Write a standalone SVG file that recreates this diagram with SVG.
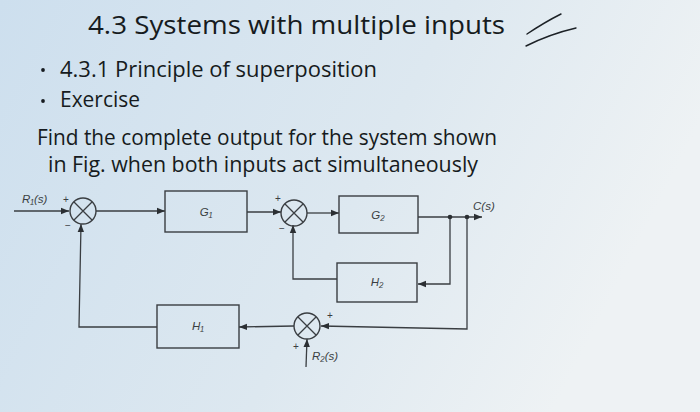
<svg xmlns="http://www.w3.org/2000/svg" width="700" height="412" viewBox="0 0 700 412">
<defs>
<linearGradient id="bg" x1="0" y1="0" x2="1" y2="0.3">
<stop offset="0" stop-color="#cddfee"/>
<stop offset="0.6" stop-color="#dde8f0"/>
<stop offset="1" stop-color="#eef2f4"/>
</linearGradient>
<marker id="ah" viewBox="0 0 10 10" refX="10" refY="5" markerWidth="8" markerHeight="8" markerUnits="userSpaceOnUse" orient="auto">
<path d="M0,1 L10,5 L0,9 Z" fill="#2b2f33"/>
</marker>
<style>
.t{font-family:"Open Sans","Liberation Sans",sans-serif;fill:#161b20}
.blk{fill:none;stroke:#3a3e42;stroke-width:1.4}
.w{fill:none;stroke:#3a3e42;stroke-width:1.3}
.lab{font-family:"Liberation Sans",sans-serif;font-style:italic;font-size:11.5px;fill:#3a3e42}
.sg{font-family:"Liberation Sans",sans-serif;font-size:10px;fill:#3a3e42}
.hw{fill:none;stroke:#1c2126;stroke-width:1.4;stroke-linecap:round}
</style>
</defs>
<rect width="700" height="412" fill="url(#bg)"/>

<g id="text">
<text class="t" x="88" y="34" font-size="26" textLength="417" lengthAdjust="spacingAndGlyphs">4.3 Systems with multiple inputs</text>
<circle cx="43" cy="70" r="1.9" fill="#161b20"/>
<text class="t" x="60" y="77" font-size="21" textLength="317" lengthAdjust="spacingAndGlyphs">4.3.1  Principle of superposition</text>
<circle cx="43" cy="101" r="1.9" fill="#161b20"/>
<text class="t" x="60" y="107" font-size="21" textLength="80" lengthAdjust="spacingAndGlyphs">Exercise</text>
<text class="t" x="37" y="145" font-size="21" textLength="460" lengthAdjust="spacingAndGlyphs">Find the complete output for the system shown</text>
<text class="t" x="48" y="172" font-size="21" textLength="430" lengthAdjust="spacingAndGlyphs">in Fig. when both inputs act simultaneously</text>
</g>
<g id="handwriting">
<path class="hw" d="M527,34 Q545,22 561,14 M526,46 Q550,34 576,28"/>
</g>

<g id="connectors">
<line class="w" x1="14" y1="211" x2="69" y2="211" marker-end="url(#ah)"/>
<line class="w" x1="96" y1="211" x2="165" y2="211" marker-end="url(#ah)"/>
<line class="w" x1="247" y1="212" x2="281" y2="212" marker-end="url(#ah)"/>
<line class="w" x1="307" y1="213" x2="339" y2="213" marker-end="url(#ah)"/>
<line class="w" x1="418" y1="217" x2="482" y2="217" marker-end="url(#ah)"/>
<polyline class="w" points="450,217 450,284 418,284" marker-end="url(#ah)"/>
<polyline class="w" points="337,279 293,279 293,225" marker-end="url(#ah)"/>
<polyline class="w" points="467,217 467,329 321,326" marker-end="url(#ah)"/>
<line class="w" x1="294" y1="326" x2="239" y2="327" marker-end="url(#ah)"/>
<polyline class="w" points="157,327 79,327 81,224" marker-end="url(#ah)"/>
<line class="w" x1="306" y1="367" x2="307" y2="339" marker-end="url(#ah)"/>
<circle cx="450" cy="217" r="2.3" fill="#2b2f33"/>
<circle cx="467" cy="217" r="2.3" fill="#2b2f33"/>
</g>

<g id="sum1">
<circle class="blk" cx="83" cy="211" r="13"/>
<path class="w" d="M74,202 L92,220 M92,202 L74,220"/>
<text class="sg" x="63" y="203">+</text>
<text class="sg" x="65" y="229">−</text>
<text class="lab" x="22" y="203">R₁(s)</text>
</g>
<g id="G1">
<rect class="blk" x="165" y="191" width="82" height="41"/>
<text class="lab" x="206" y="216" text-anchor="middle">G₁</text>
</g>
<g id="sum2">
<circle class="blk" cx="294" cy="213" r="13"/>
<path class="w" d="M285,204 L303,222 M303,204 L285,222"/>
<text class="sg" x="275" y="202">+</text>
<text class="sg" x="279" y="232">−</text>
</g>
<g id="G2">
<rect class="blk" x="339" y="196" width="79" height="37"/>
<text class="lab" x="378" y="219" text-anchor="middle">G₂</text>
<text class="lab" x="473" y="210">C(s)</text>
</g>
<g id="H2">
<rect class="blk" x="337" y="263" width="80" height="39"/>
<text class="lab" x="377" y="286" text-anchor="middle">H₂</text>
</g>
<g id="H1">
<rect class="blk" x="157" y="305" width="82" height="43"/>
<text class="lab" x="198" y="330" text-anchor="middle">H₁</text>
</g>
<g id="sum3">
<circle class="blk" cx="307" cy="326" r="13"/>
<path class="w" d="M298,317 L316,335 M316,317 L298,335"/>
<text class="sg" x="327" y="319">+</text>
<text class="sg" x="293" y="350">+</text>
<text class="lab" x="312" y="360">R₂(s)</text>
</g>
</svg>
